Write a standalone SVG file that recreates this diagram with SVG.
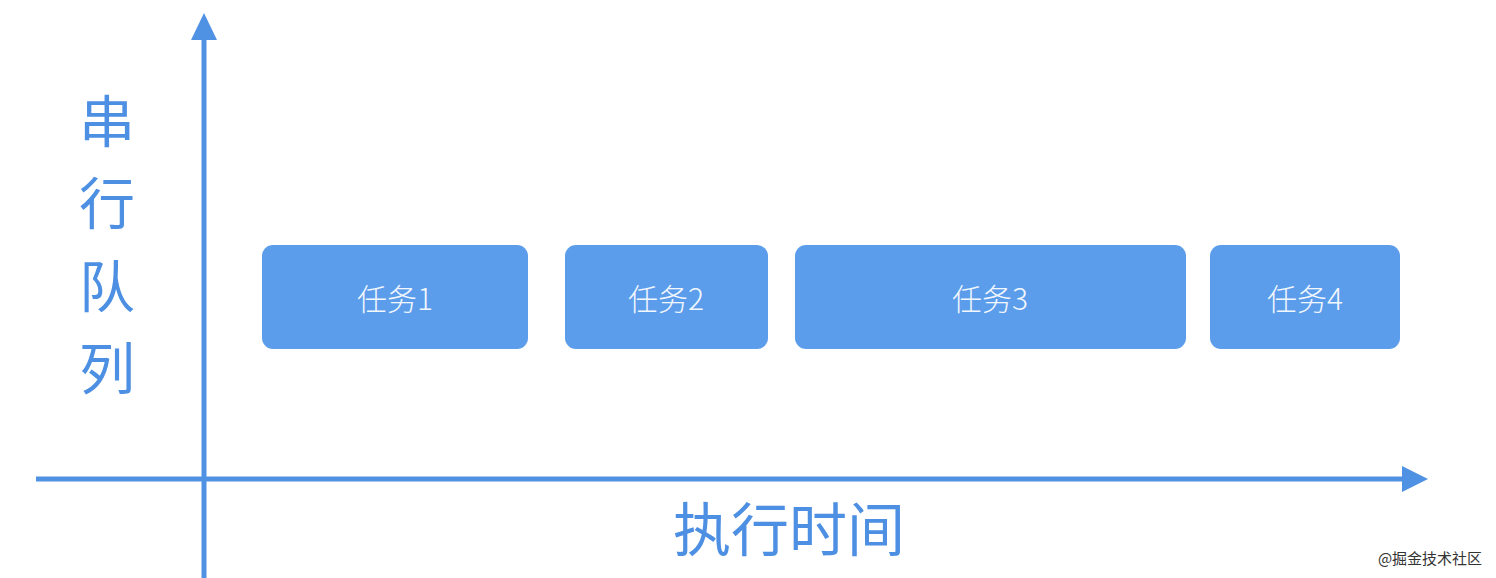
<svg xmlns="http://www.w3.org/2000/svg" width="1496" height="578" viewBox="0 0 1496 578">
<style>
.axis{stroke:#4f92e3;stroke-width:5;fill:none}
.head{fill:#4f92e3}
.box{fill:#5b9deb}
.lbl{font-family:"Noto Sans CJK SC","Liberation Sans",sans-serif;font-size:30px;fill:#f2f7fd;text-anchor:middle;dominant-baseline:central;font-weight:300}
.big{font-family:"Noto Sans CJK SC",sans-serif;fill:#4d8fe2;font-weight:400}
</style>
<rect width="1496" height="578" fill="#ffffff"/>
<g id="connectors">
<line class="axis" x1="204" y1="578" x2="204" y2="36"/>
<polygon class="head" points="204,13 191,40 217,40"/>
<line class="axis" x1="36" y1="479" x2="1406" y2="479"/>
<polygon class="head" points="1428,479 1402,466 1402,492"/>
</g>
<g id="ylabel">
<text class="big" font-size="56" x="107" y="142" text-anchor="middle">串</text>
<text class="big" font-size="56" x="107" y="224" text-anchor="middle">行</text>
<text class="big" font-size="56" x="107" y="307" text-anchor="middle">队</text>
<text class="big" font-size="56" x="107" y="389" text-anchor="middle">列</text>
</g>
<g id="xlabel">
<text class="big" font-size="58" x="789" y="551" text-anchor="middle">执行时间</text>
</g>
<g id="task1"><rect class="box" x="262" y="245" width="266" height="104" rx="11"/><text class="lbl" x="395" y="297">任务1</text></g>
<g id="task2"><rect class="box" x="565" y="245" width="203" height="104" rx="11"/><text class="lbl" x="666" y="297">任务2</text></g>
<g id="task3"><rect class="box" x="795" y="245" width="391" height="104" rx="11"/><text class="lbl" x="990" y="297">任务3</text></g>
<g id="task4"><rect class="box" x="1210" y="245" width="190" height="104" rx="11"/><text class="lbl" x="1305" y="297">任务4</text></g>
<g id="watermark"><text x="1430" y="564" font-family="'Noto Sans CJK SC',sans-serif" font-size="15" fill="#333" text-anchor="middle">@掘金技术社区</text></g>
</svg>
